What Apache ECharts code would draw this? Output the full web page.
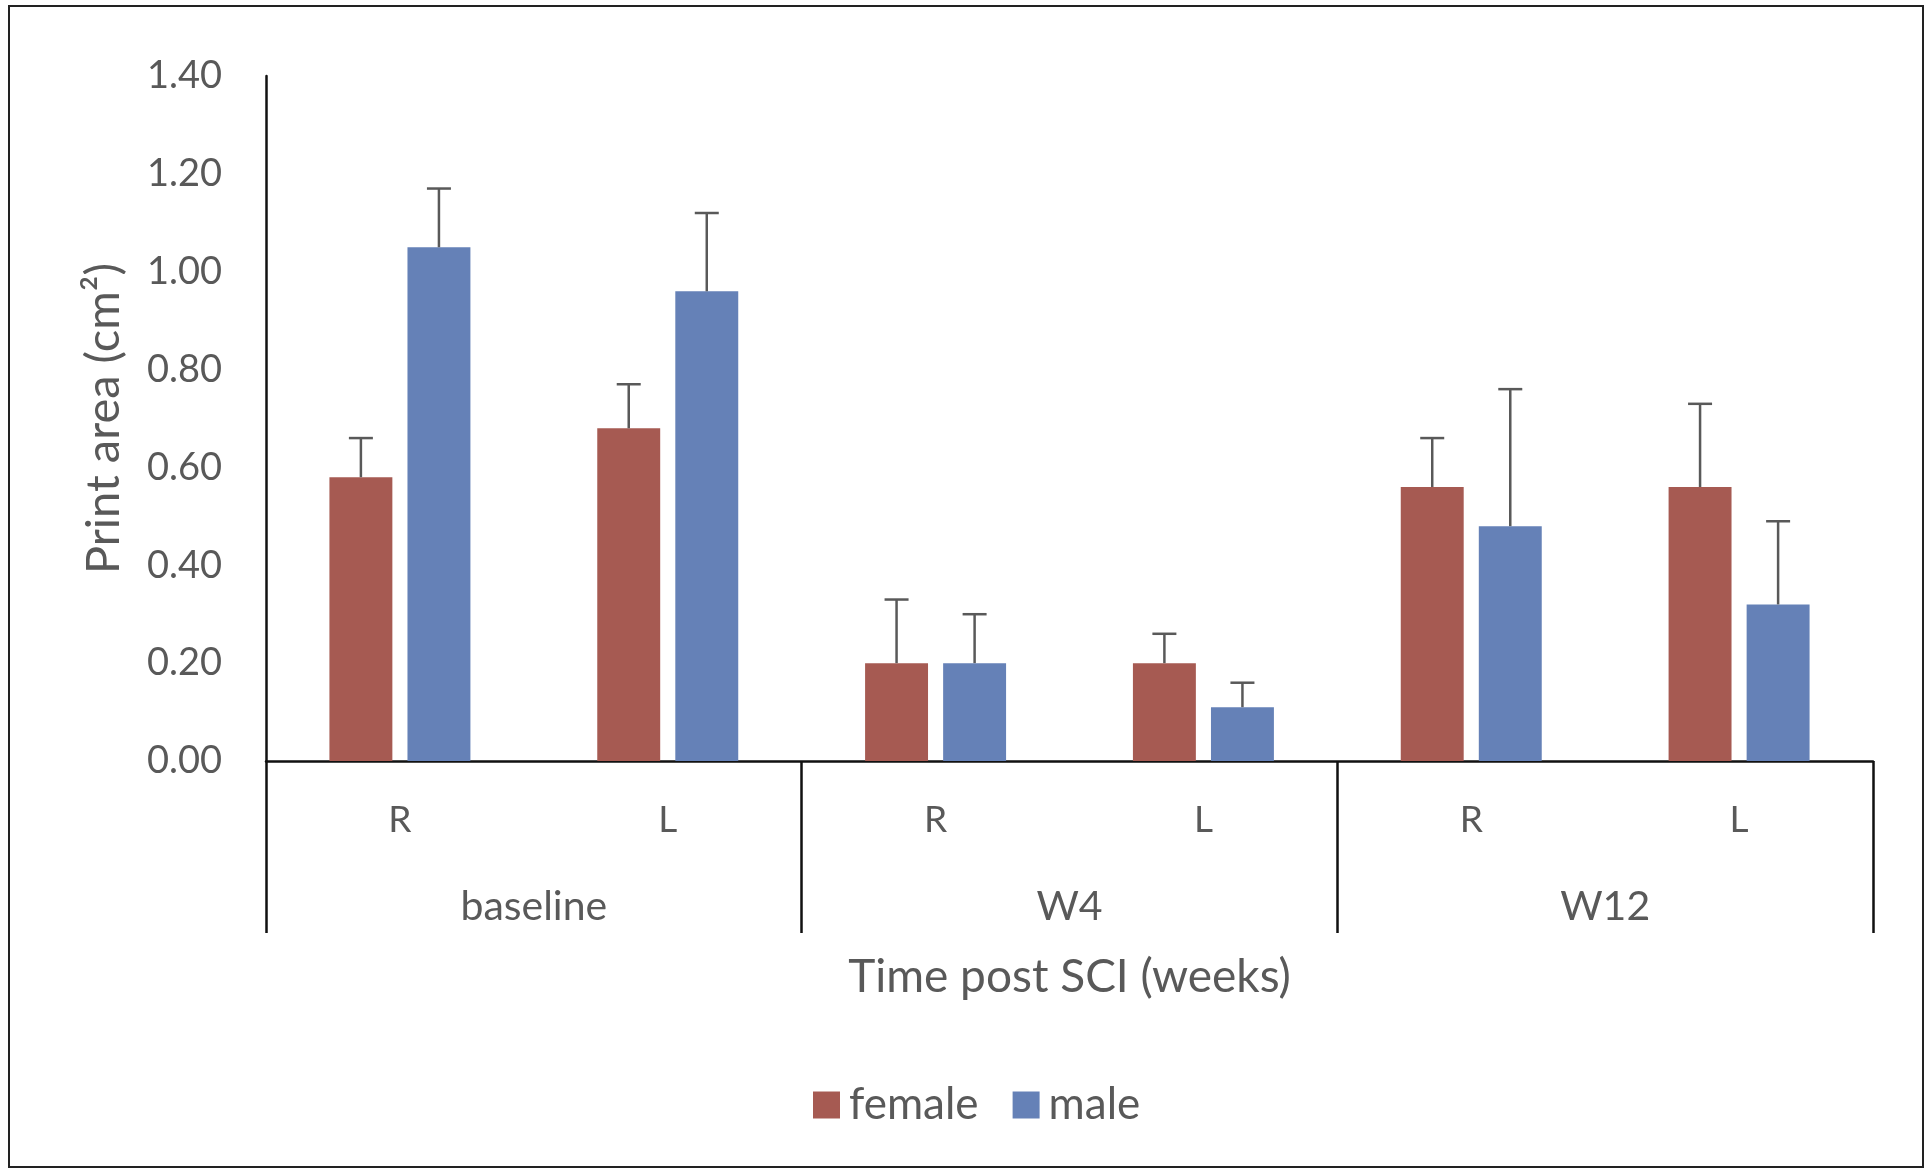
<!DOCTYPE html>
<html>
<head>
<meta charset="utf-8">
<script src="https://cdn.jsdelivr.net/npm/echarts@6/dist/echarts.min.js"></script>
<style>
html,body{margin:0;padding:0;background:#fff;}
#chart{width:1930px;height:1176px;}
</style>
</head>
<body>
<div id="chart"></div>
<script>
// ---- data ----
const sides = ['R', 'L', 'R', 'L', 'R', 'L'];
const groups = ['baseline', 'W4', 'W12'];
const yTicks = [0, 0.2, 0.4, 0.6, 0.8, 1.0, 1.2, 1.4];
const femaleMean = [0.58, 0.68, 0.20, 0.20, 0.56, 0.56];
const femaleErr  = [0.08, 0.09, 0.13, 0.06, 0.10, 0.17];
const maleMean   = [1.05, 0.96, 0.20, 0.11, 0.48, 0.32];
const maleErr    = [0.12, 0.16, 0.10, 0.05, 0.28, 0.17];

const FONT = 'Lato, "Open Sans", sans-serif';
const TXT = '#595959';
const FEMALE = '#A65A52';
const MALE = '#6581B7';
const BAR_FRAC = 0.235;
const GAP_FRAC = 0.24;

const chart = echarts.init(document.getElementById('chart'));

function errorSeries(name, means, errs, sign) {
  return {
    type: 'custom',
    name: name,
    z: 5,
    silent: true,
    data: means.map((m, i) => [i, m, m + errs[i]]),
    renderItem: function (params, api) {
      const band = api.size([1, 0])[0];
      const bw = band * BAR_FRAC;
      const off = sign * (bw + bw * GAP_FRAC) / 2;
      const base = api.coord([api.value(0), api.value(1)]);
      const top = api.coord([api.value(0), api.value(2)]);
      const x = base[0] + off;
      const cap = 12;
      const st = { stroke: '#595959', lineWidth: 2.5 };
      return {
        type: 'group',
        children: [
          { type: 'line', shape: { x1: x, y1: base[1], x2: x, y2: top[1] }, style: st },
          { type: 'line', shape: { x1: x - cap, y1: top[1], x2: x + cap, y2: top[1] }, style: st }
        ]
      };
    }
  };
}

const option = {
  backgroundColor: '#fff',
  animation: false,
  textStyle: { fontFamily: FONT },
  graphic: [{
    type: 'rect',
    shape: { x: 9, y: 6, width: 1914, height: 1161 },
    style: { fill: 'none', stroke: '#222', lineWidth: 2 },
    silent: true
  }],
  grid: { left: 266, right: 57, top: 76, bottom: 415 },
  legend: {
    data: ['female', 'male'],
    bottom: 44,
    left: 808,
    icon: 'rect',
    itemWidth: 27,
    itemHeight: 27,
    itemGap: 34,
    textStyle: { fontFamily: FONT, fontSize: 44, color: TXT, padding: [0, 0, 0, 4] }
  },
  xAxis: [
    {
      type: 'category',
      data: sides,
      position: 'bottom',
      axisLine: { show: true, lineStyle: { color: '#111', width: 2.5 } },
      axisTick: { show: false },
      axisLabel: { fontFamily: FONT, fontSize: 37, color: TXT, margin: 41 },
      splitLine: { show: false }
    },
    {
      type: 'category',
      data: groups,
      position: 'bottom',
      axisLine: { show: false },
      axisTick: { show: true, length: 172, lineStyle: { color: '#111', width: 2.5 } },
      axisLabel: { fontFamily: FONT, fontSize: 41, color: TXT, margin: 125 },
      splitLine: { show: false },
      name: 'Time post SCI (weeks)',
      nameLocation: 'middle',
      nameGap: 193,
      nameTextStyle: { fontFamily: FONT, fontSize: 46, color: TXT }
    }
  ],
  yAxis: {
    type: 'value',
    min: yTicks[0],
    max: yTicks[yTicks.length - 1],
    interval: 0.2,
    axisLine: { show: true, lineStyle: { color: '#111', width: 2.5 } },
    axisTick: { show: false },
    splitLine: { show: false },
    axisLabel: {
      fontFamily: FONT, fontSize: 38, color: TXT, margin: 44,
      formatter: v => v.toFixed(2)
    },
    name: 'Print area (cm²)',
    nameLocation: 'middle',
    nameGap: 139,
    nameTextStyle: { fontFamily: FONT, fontSize: 47, color: TXT }
  },
  series: [
    {
      name: 'female', type: 'bar', xAxisIndex: 0,
      data: femaleMean,
      barWidth: (BAR_FRAC * 100) + '%',
      barGap: (GAP_FRAC * 100) + '%',
      itemStyle: { color: FEMALE }
    },
    {
      name: 'male', type: 'bar', xAxisIndex: 0,
      data: maleMean,
      barWidth: (BAR_FRAC * 100) + '%',
      barGap: (GAP_FRAC * 100) + '%',
      itemStyle: { color: MALE }
    },
    errorSeries('femaleErr', femaleMean, femaleErr, -1),
    errorSeries('maleErr', maleMean, maleErr, 1)
  ]
};
chart.setOption(option);
</script>
</body>
</html>
